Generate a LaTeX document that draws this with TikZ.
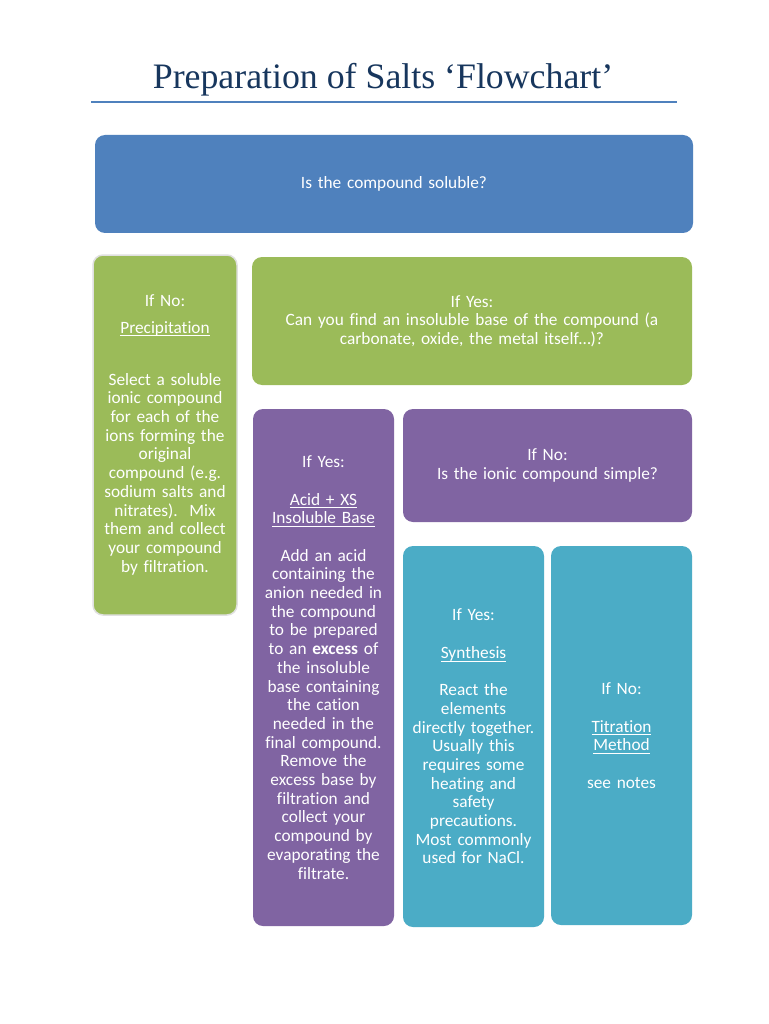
\documentclass[tikz,border=0pt]{standalone}
\usepackage{fontspec}
\setmainfont{Carlito}[Ligatures=NoCommon]
\newfontfamily\titlefont{Liberation Serif}
\newcommand\myul[1]{\leavevmode\setbox0\hbox{#1}\rlap{\rule[-3.4pt]{\wd0}{1pt}}\box0}
\definecolor{cblue}{HTML}{4F81BD}
\definecolor{cgreen}{HTML}{9BBB59}
\definecolor{cpurple}{HTML}{8064A2}
\definecolor{ccyan}{HTML}{4BACC6}
\definecolor{ctitle}{HTML}{17365D}
\tikzset{
  box/.style={rounded corners=10pt, inner sep=0pt, text=white, align=center,
    font=\fontsize{17.3}{18.7}\selectfont},
  titlestyle/.style={text=ctitle, inner sep=0pt, font=\titlefont\fontsize{35.8}{40}\selectfont},
}
\begin{document}
\begin{tikzpicture}[x=1pt,y=-1pt]
\useasboundingbox (0,0) rectangle (768,1024);
\fill[white] (0,0) rectangle (768,1024);
\node[titlestyle] (title) at (383,80) {Preparation of Salts ‘Flowchart’};
\coordinate (rl) at (91,102);
\coordinate (rr) at (677,102);
\draw[cblue, line width=1.5pt] (rl) -- (rr);

\node[box, fill=cblue, minimum width=598pt, minimum height=98pt, text width=560pt] (q1) at (394,184) {Is the compound soluble?};

\node[box, fill=cgreen, draw=black!12, line width=1.5pt, minimum width=144pt, minimum height=360pt, text width=142pt] (prec) at (165,435) {If No:\\[7.4pt]
\myul{Precipitation}\\[33.4pt]
Select a soluble\\ ionic compound\\ for each of the\\ ions forming the\\ original\\ compound (e.g.\\ sodium salts and\\ nitrates).\ \ Mix\\ them and collect\\ your compound\\ by filtration.};

\node[box, fill=cgreen, minimum width=440pt, minimum height=128pt, text width=430pt] (q2) at (472,321) {If Yes:\\ Can you find an insoluble base of the compound (a\\ carbonate, oxide, the metal itself…)?};

\node[box, fill=cpurple, minimum width=141pt, minimum height=517pt, text width=140pt] (acid) at (323.5,667.5) {If Yes:\\[18.7pt]
\myul{Acid + XS}\\ \myul{Insoluble Base}\\[18.7pt]
Add an acid\\ containing the\\ anion needed in\\ the compound\\ to be prepared\\ to an \textbf{excess} of\\ the insoluble\\ base containing\\ the cation\\ needed in the\\ final compound.\\ Remove the\\ excess base by\\ filtration and\\ collect your\\ compound by\\ evaporating the\\ filtrate.};

\node[box, fill=cpurple, minimum width=289pt, minimum height=113pt, text width=280pt] (q3) at (547.5,465.5) {If No:\\ Is the ionic compound simple?};

\node[box, fill=ccyan, minimum width=141pt, minimum height=381pt, text width=140pt] (syn) at (473.5,736.5) {If Yes:\\[18.7pt]
\myul{Synthesis}\\[18.7pt]
React the\\ elements\\ directly together.\\ Usually this\\ requires some\\ heating and\\ safety\\ precautions.\\ Most commonly\\ used for NaCl.};

\node[box, fill=ccyan, minimum width=141pt, minimum height=379pt, text width=140pt] (tit) at (621.5,735.5) {If No:\\[18.7pt]
\myul{Titration}\\ \myul{Method}\\[18.7pt]
see notes};
\end{tikzpicture}
\end{document}
